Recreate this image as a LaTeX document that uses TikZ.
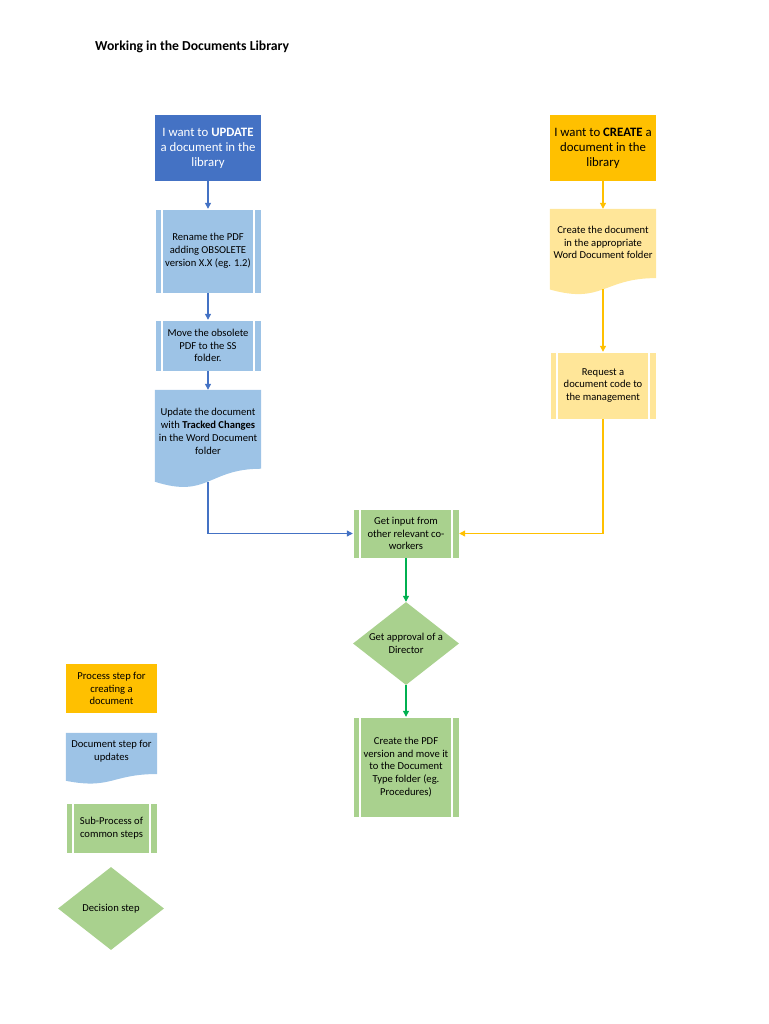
\documentclass[tikz,border=0pt]{standalone}
\usepackage{fontspec}
\setmainfont{Carlito}
\usetikzlibrary{arrows.meta,shapes.geometric,calc,backgrounds}
\definecolor{dblue}{HTML}{4472C4}
\definecolor{lblue}{HTML}{9DC3E6}
\definecolor{orng}{HTML}{FFC000}
\definecolor{lyel}{HTML}{FFE699}
\definecolor{lgreen}{HTML}{A9D18E}
\definecolor{lnblue}{HTML}{4472C4}
\definecolor{lnyel}{HTML}{FFC000}
\definecolor{lngreen}{HTML}{00B050}
\tikzset{
  big/.style={font=\fontsize{12.8}{15}\selectfont},
  small/.style={font=\fontsize{10.6}{12.8}\selectfont},
  boxbase/.style={rectangle, inner sep=0pt, align=center, minimum width=106pt},
  startbox/.style={boxbase, big, minimum height=66pt},
  subproc/.style={boxbase, small, draw=white, line width=0.4pt,
    path picture={
      \draw[white, line width=1.2pt]
        ([xshift=7pt]path picture bounding box.north west) -- ([xshift=7pt]path picture bounding box.south west)
        ([xshift=-7pt]path picture bounding box.north east) -- ([xshift=-7pt]path picture bounding box.south east);
    }},
  docframe/.style={rectangle, inner sep=0pt, minimum width=106pt},
  doctext/.style={small, align=center, inner sep=0pt},
  decision/.style={diamond, small, align=center, inner sep=0pt, minimum width=106pt, minimum height=83pt, aspect=1.277},
  arr/.style={line width=1.1pt, -{Triangle[width=6pt,length=6pt]}},
}
\newcommand\docbg[2]{%
  \begin{pgfonlayer}{background}
  \fill[#2] (#1.north west) -- (#1.north east)
    -- ($(#1.north east)!0.802!(#1.south east)$)
    .. controls ($(#1.north)!0.802!(#1.south)$) and ($(#1.north)!1.107!(#1.south)$)
    .. ($(#1.north west)!0.934!(#1.south west)$) -- cycle;
  \end{pgfonlayer}}
\begin{document}
\begin{tikzpicture}[x=1pt,y=-1pt]
\useasboundingbox (0,0) rectangle (768,1024);

\node[anchor=west, inner sep=0pt, font=\fontsize{13.7}{16}\selectfont\bfseries] (title) at (95,46.5) {Working in the Documents Library};

% update column
\node[startbox, fill=dblue, text=white] (upd) at (208,148) {I want to \textbf{UPDATE}\\a document in the\\library};
\node[subproc, fill=lblue, minimum height=84pt] (ren) at (208,251) {Rename the PDF\\adding OBSOLETE\\version X.X (eg. 1.2)};
\node[subproc, fill=lblue, minimum height=51pt] (mov) at (208,345.5) {Move the obsolete\\PDF to the SS\\folder.};
\node[docframe, minimum height=98pt] (udoc) at (208,439) {};
\docbg{udoc}{lblue}
\node[doctext] (udoct) at (208,431.5) {Update the document\\with \textbf{Tracked Changes}\\in the Word Document\\folder};

% create column
\node[startbox, fill=orng] (cre) at (603,148) {I want to \textbf{CREATE} a\\document in the\\library};
\node[docframe, minimum height=86pt] (cdoc) at (603,252) {};
\docbg{cdoc}{lyel}
\node[doctext] (cdoct) at (603,242.5) {Create the document\\in the appropriate\\Word Document folder};
\node[subproc, fill=lyel, minimum height=67pt] (req) at (603,385.5) {Request a\\document code to\\the management};

% common
\node[subproc, fill=lgreen, minimum height=49pt] (inp) at (406,533.5) {Get input from\\other relevant co-\\workers};
\node[decision, fill=lgreen] (appr) at (406,643.5) {Get approval of a\\Director};
\node[subproc, fill=lgreen, minimum height=100pt] (pdf) at (406,767) {Create the PDF\\version and move it\\to the Document\\Type folder (eg.\\Procedures)};

% legend
\node[boxbase, small, fill=orng, minimum width=91pt, minimum height=49pt] (lproc) at (111.5,688.5) {Process step for\\creating a\\document};
\node[docframe, minimum width=91pt, minimum height=51pt] (ldoc) at (111.5,758.5) {};
\docbg{ldoc}{lblue}
\node[doctext] (ldoct) at (111.5,751.5) {Document step for\\updates};
\node[subproc, fill=lgreen, minimum width=91pt, minimum height=50pt] (lsub) at (111.5,828) {Sub-Process of\\common steps};
\node[decision, fill=lgreen] (ldec) at (111,908.5) {Decision step};

% connectors
\draw[arr, lnblue] (upd.south) -- (ren.north);
\draw[arr, lnblue] (ren.south) -- (mov.north);
\draw[arr, lnblue] (mov.south) -- (udoc.north);
\draw[arr, lnblue] ($(udoc.north)!0.933!(udoc.south)$) |- (inp.west);

\draw[arr, lnyel] (cre.south) -- (cdoc.north);
\draw[arr, lnyel] ($(cdoc.north)!0.933!(cdoc.south)$) -- (req.north);
\draw[arr, lnyel] (req.south) |- (inp.east);

\draw[arr, lngreen] (inp.south) -- (appr.north);
\draw[arr, lngreen] (appr.south) -- (pdf.north);
\end{tikzpicture}
\end{document}
